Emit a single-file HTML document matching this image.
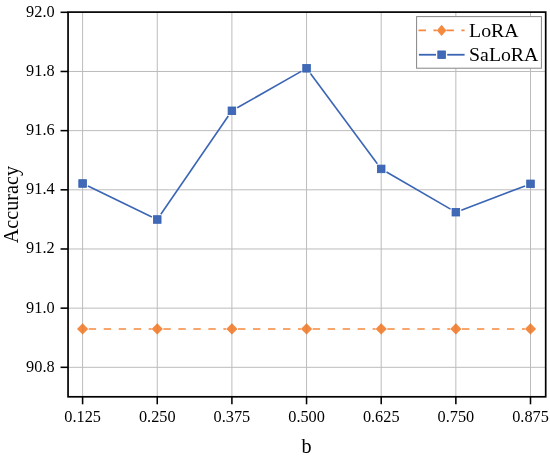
<!DOCTYPE html>
<html><head><meta charset="utf-8"><style>html,body{margin:0;padding:0;background:#fff;width:550px;height:459px;overflow:hidden}svg{display:block}</style></head>
<body>
<svg width="550" height="459" viewBox="0 0 550 459">
<rect width="550" height="459" fill="#fff"/>
<g stroke="#bcbcbc" stroke-width="1.0"><line x1="82.60" y1="12.1" x2="82.60" y2="396.8"/><line x1="157.25" y1="12.1" x2="157.25" y2="396.8"/><line x1="231.90" y1="12.1" x2="231.90" y2="396.8"/><line x1="306.55" y1="12.1" x2="306.55" y2="396.8"/><line x1="381.20" y1="12.1" x2="381.20" y2="396.8"/><line x1="455.85" y1="12.1" x2="455.85" y2="396.8"/><line x1="530.50" y1="12.1" x2="530.50" y2="396.8"/><line x1="68.05" y1="71.47" x2="545.7" y2="71.47"/><line x1="68.05" y1="130.64" x2="545.7" y2="130.64"/><line x1="68.05" y1="189.81" x2="545.7" y2="189.81"/><line x1="68.05" y1="248.98" x2="545.7" y2="248.98"/><line x1="68.05" y1="308.15" x2="545.7" y2="308.15"/><line x1="68.05" y1="367.32" x2="545.7" y2="367.32"/></g>
<g stroke="#f5893f" stroke-width="1.5" stroke-dasharray="7.4 7.6" fill="none"><line x1="88.70" y1="328.95" x2="151.65" y2="328.95"/><line x1="163.35" y1="328.95" x2="226.30" y2="328.95"/><line x1="238.00" y1="328.95" x2="300.95" y2="328.95"/><line x1="312.65" y1="328.95" x2="375.60" y2="328.95"/><line x1="387.30" y1="328.95" x2="450.25" y2="328.95"/><line x1="461.95" y1="328.95" x2="524.90" y2="328.95"/></g>
<g stroke="#3a65b5" stroke-width="1.6" fill="none"><line x1="87.97" y1="186.09" x2="151.88" y2="216.91"/><line x1="160.87" y1="214.23" x2="228.28" y2="116.07"/><line x1="237.23" y1="107.77" x2="301.22" y2="71.33"/><line x1="310.44" y1="73.54" x2="377.31" y2="163.66"/><line x1="386.52" y1="171.99" x2="450.53" y2="209.11"/><line x1="461.27" y1="210.14" x2="525.08" y2="185.91"/></g>
<g fill="#4069b8" stroke="#3560ae" stroke-width="0.8"><rect x="78.80" y="179.70" width="7.60" height="7.60"/><rect x="153.45" y="215.70" width="7.60" height="7.60"/><rect x="228.10" y="107.00" width="7.60" height="7.60"/><rect x="302.75" y="64.50" width="7.60" height="7.60"/><rect x="377.40" y="165.10" width="7.60" height="7.60"/><rect x="452.05" y="208.40" width="7.60" height="7.60"/><rect x="526.70" y="180.05" width="7.60" height="7.60"/></g>
<g fill="#f5893f"><path d="M77.00 328.95L82.60 323.30L88.20 328.95L82.60 334.60Z"/><path d="M151.65 328.95L157.25 323.30L162.85 328.95L157.25 334.60Z"/><path d="M226.30 328.95L231.90 323.30L237.50 328.95L231.90 334.60Z"/><path d="M300.95 328.95L306.55 323.30L312.15 328.95L306.55 334.60Z"/><path d="M375.60 328.95L381.20 323.30L386.80 328.95L381.20 334.60Z"/><path d="M450.25 328.95L455.85 323.30L461.45 328.95L455.85 334.60Z"/><path d="M524.90 328.95L530.50 323.30L536.10 328.95L530.50 334.60Z"/></g>
<g stroke="#8a5a3a" stroke-opacity="0.18" stroke-width="1"><line x1="82.60" y1="323.30" x2="82.60" y2="334.60"/><line x1="157.25" y1="323.30" x2="157.25" y2="334.60"/><line x1="231.90" y1="323.30" x2="231.90" y2="334.60"/><line x1="306.55" y1="323.30" x2="306.55" y2="334.60"/><line x1="381.20" y1="323.30" x2="381.20" y2="334.60"/><line x1="455.85" y1="323.30" x2="455.85" y2="334.60"/><line x1="530.50" y1="323.30" x2="530.50" y2="334.60"/></g>
<rect x="68.05" y="12.1" width="477.65" height="384.70" fill="none" stroke="#000" stroke-width="1.7"/>
<g stroke="#000" stroke-width="1.55"><line x1="82.60" y1="396.8" x2="82.60" y2="404.30"/><line x1="157.25" y1="396.8" x2="157.25" y2="404.30"/><line x1="231.90" y1="396.8" x2="231.90" y2="404.30"/><line x1="306.55" y1="396.8" x2="306.55" y2="404.30"/><line x1="381.20" y1="396.8" x2="381.20" y2="404.30"/><line x1="455.85" y1="396.8" x2="455.85" y2="404.30"/><line x1="530.50" y1="396.8" x2="530.50" y2="404.30"/><line x1="60.55" y1="12.30" x2="68.05" y2="12.30"/><line x1="60.55" y1="71.47" x2="68.05" y2="71.47"/><line x1="60.55" y1="130.64" x2="68.05" y2="130.64"/><line x1="60.55" y1="189.81" x2="68.05" y2="189.81"/><line x1="60.55" y1="248.98" x2="68.05" y2="248.98"/><line x1="60.55" y1="308.15" x2="68.05" y2="308.15"/><line x1="60.55" y1="367.32" x2="68.05" y2="367.32"/></g>
<g font-family="Liberation Serif, Times New Roman, serif" font-size="16.3" fill="#000"><text transform="translate(82.60 422.20)" text-anchor="middle">0.125</text><text transform="translate(157.25 422.20)" text-anchor="middle">0.250</text><text transform="translate(231.90 422.20)" text-anchor="middle">0.375</text><text transform="translate(306.55 422.20)" text-anchor="middle">0.500</text><text transform="translate(381.20 422.20)" text-anchor="middle">0.625</text><text transform="translate(455.85 422.20)" text-anchor="middle">0.750</text><text transform="translate(530.50 422.20)" text-anchor="middle">0.875</text><text transform="translate(54.60 16.70)" text-anchor="end">92.0</text><text transform="translate(54.60 75.87)" text-anchor="end">91.8</text><text transform="translate(54.60 135.04)" text-anchor="end">91.6</text><text transform="translate(54.60 194.21)" text-anchor="end">91.4</text><text transform="translate(54.60 253.38)" text-anchor="end">91.2</text><text transform="translate(54.60 312.55)" text-anchor="end">91.0</text><text transform="translate(54.60 371.72)" text-anchor="end">90.8</text></g>
<g font-family="Liberation Serif, Times New Roman, serif" font-size="20.2" fill="#000"><text transform="translate(306.60 453.40)" text-anchor="middle">b</text><text transform="translate(17.90 204.60) rotate(-90)" text-anchor="middle">Accuracy</text></g>
<rect x="416.6" y="16.6" width="124.8" height="51.6" fill="#fff" stroke="#858585" stroke-width="1"/>
<g stroke="#f5893f" stroke-width="1.6" stroke-dasharray="7.5 7.5"><line x1="418.5" y1="30.4" x2="436.80" y2="30.4"/><line x1="446.40" y1="30.4" x2="464.6" y2="30.4"/></g>
<path fill="#f5893f" d="M436.80 30.4L441.6 24.80L446.40 30.4L441.6 36.00Z"/>
<g stroke="#3a65b5" stroke-width="1.8"><line x1="418.9" y1="54.75" x2="436.00" y2="54.75"/><line x1="447.20" y1="54.75" x2="464.6" y2="54.75"/></g>
<rect fill="#4069b8" stroke="#3560ae" stroke-width="0.8" x="437.80" y="50.95" width="7.60" height="7.60"/>
<g font-family="Liberation Serif, Times New Roman, serif" font-size="19.8" fill="#000"><text transform="translate(469.10 37.00)">LoRA</text><text transform="translate(469.10 61.20)">SaLoRA</text></g>
</svg>
</body></html>
